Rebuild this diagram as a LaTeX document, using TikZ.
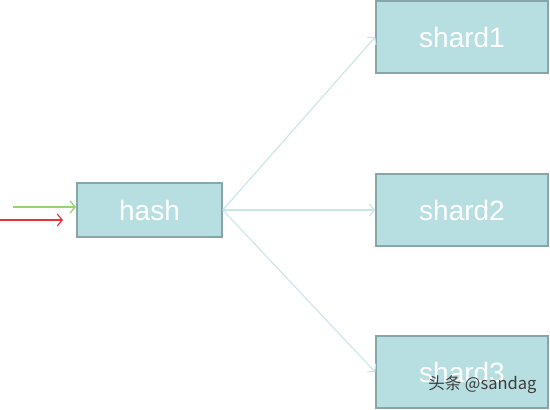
\documentclass[tikz,border=0pt]{standalone}
\usepackage{fontspec}
\setsansfont{Liberation Sans}
\newfontfamily\cjkfont{Noto Sans CJK SC}
\usetikzlibrary{arrows.meta}
\usetikzlibrary{positioning}

\definecolor{boxfill}{HTML}{B7DEE1}
\definecolor{boxline}{HTML}{86A6AA}
\definecolor{linkcol}{HTML}{C6E6E8}
\definecolor{greencol}{HTML}{96D46E}
\definecolor{redcol}{HTML}{E8303A}
\definecolor{markgray}{HTML}{3C3C3C}

\begin{document}
\begin{tikzpicture}[
    x=1pt, y=-1pt,
    font=\sffamily
]
\tikzset{
    hashbox/.style = {rectangle, draw=boxline, line width=1.6pt, fill=boxfill,
        text=white, font=\sffamily\fontsize{28}{30}\selectfont,
        minimum width=145pt, minimum height=54pt, inner sep=0pt},
    shardbox/.style = {hashbox, minimum width=172pt, minimum height=72pt},
    link/.style = {-{Straight Barb[length=5pt,width=12pt]}, linkcol, line width=1.1pt},
    greenin/.style = {-{Straight Barb[length=5pt,width=12pt]}, greencol, line width=1.3pt},
    redin/.style = {-{Straight Barb[length=5pt,width=12pt]}, redcol, line width=1.2pt}
}
\useasboundingbox (0,0) rectangle (550,410);
\node[hashbox] at (149.5,210) (hash) {hash};
\node[shardbox] at (462,37) (s1) {shard1};
\node[shardbox] at (462,210) (s2) {shard2};
\node[shardbox] at (462,372) (s3) {shard3};
\coordinate (gin) at (13,207);
\coordinate (gout) at (76,207);
\coordinate (rin) at (0,220);
\coordinate (rout) at (63,220);
\draw[greenin] (gin) -- (gout);
\draw[redin] (rin) -- (rout);
\draw[link] (hash.east) -- (s1.west);
\draw[link] (hash.east) -- (s2.west);
\draw[link] (hash.east) -- (s3.west);
% watermark
\node[text=markgray, font=\cjkfont\fontsize{16.5}{18}\selectfont, anchor=east] at (540,385) (mark) {头条 @sandag};
\end{tikzpicture}
\end{document}
